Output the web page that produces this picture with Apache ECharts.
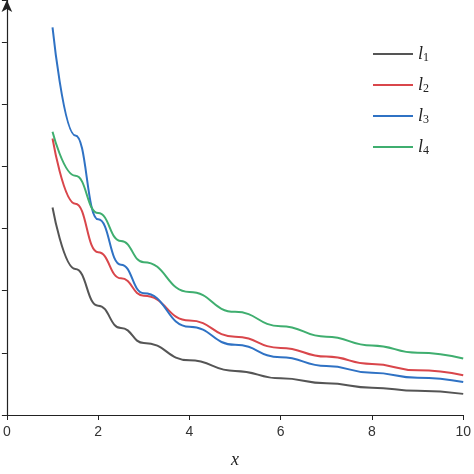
<!DOCTYPE html><html><head><meta charset="utf-8">
<script src="https://cdn.jsdelivr.net/npm/echarts@6/dist/echarts.min.js"></script>
<style>html,body{margin:0;padding:0;background:#fff}#c{width:474px;height:474px}</style></head><body><div id="c"></div>
<script>
const xs = [1, 1.5, 2, 2.5, 3, 4, 5, 6, 7, 8, 9, 10];
const l1 = [3.34, 2.35, 1.76, 1.4, 1.16, 0.88, 0.71, 0.59, 0.51, 0.44, 0.39, 0.34];
const l2 = [4.45, 3.4, 2.62, 2.2, 1.92, 1.52, 1.26, 1.08, 0.94, 0.82, 0.72, 0.64];
const l3 = [6.24, 4.5, 3.15, 2.42, 1.96, 1.42, 1.13, 0.93, 0.79, 0.68, 0.6, 0.53];
const l4 = [4.56, 3.85, 3.25, 2.8, 2.46, 1.98, 1.66, 1.43, 1.26, 1.12, 1.0, 0.91];
const names = ['l1','l2','l3','l4'];
const colors = ['#555555','#d9464b','#2f72c4','#3fae6f'];
const data = [l1,l2,l3,l4];
const chart = echarts.init(document.getElementById('c'));
chart.setOption({
  animation:false,
  grid:{left:5,right:6,top:0,bottom:58},
  legend:{right:40,top:40,orient:'vertical',itemWidth:40,itemHeight:2,itemGap:12,
    icon:'rect',
    formatter:n=>'{i|l}{s|'+n.slice(1)+'}',
    textStyle:{rich:{i:{fontFamily:'Liberation Serif',fontStyle:'italic',fontSize:18,color:'#222'},
      s:{fontFamily:'Liberation Serif',fontSize:12,color:'#222',verticalAlign:'bottom',padding:[8,0,0,0]}}}},
  xAxis:{type:'value',min:0,max:10,interval:2,name:'x',nameLocation:'middle',nameGap:36,
    nameTextStyle:{fontFamily:'Liberation Serif',fontStyle:'italic',fontSize:18,color:'#222'},
    axisLine:{lineStyle:{color:'#222',width:1.2}},axisTick:{inside:false,length:5,lineStyle:{color:'#222'}},
    axisLabel:{fontFamily:'Liberation Sans',fontSize:14,color:'#333',margin:10},splitLine:{show:false}},
  yAxis:{type:'value',min:0,max:6.68,interval:1,
    axisLine:{show:true,symbol:['none','arrow'],symbolSize:[8,12],lineStyle:{color:'#222',width:1.2}},
    axisTick:{show:true,length:5,lineStyle:{color:'#222'}},axisLabel:{show:false},splitLine:{show:false}},
  series:data.map((d,i)=>({name:names[i],type:'line',smooth:0.5,smoothMonotone:'x',showSymbol:false,
    data:xs.map((x,j)=>[x,d[j]]),lineStyle:{color:colors[i],width:2},itemStyle:{color:colors[i]}}))
});
</script></body></html>
